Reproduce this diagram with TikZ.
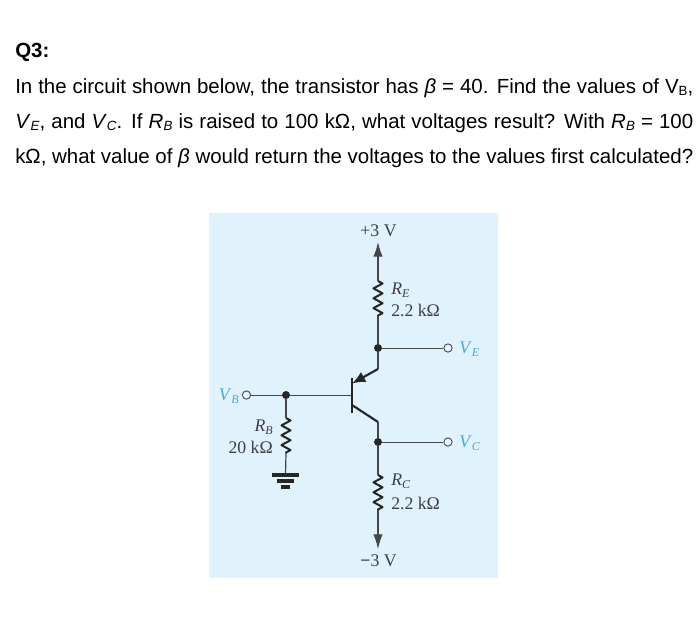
\documentclass[tikz,border=0pt]{standalone}
\usepackage{fontspec}
\setmainfont{Liberation Sans}
\newfontfamily\circuitfont{Liberation Serif}
\usetikzlibrary{arrows.meta, decorations.pathmorphing}
\definecolor{panelblue}{RGB}{224,242,252}
\definecolor{wiregray}{RGB}{70,70,72}
\definecolor{labelgray}{RGB}{62,62,66}
\definecolor{labelblue}{RGB}{70,170,220}
\newcommand{\lowtxt}[1]{\raisebox{-0.25ex}{\fontsize{10}{12}\selectfont #1}}
\newcommand{\lowcir}[1]{\raisebox{-0.4ex}{\fontsize{9}{10}\selectfont #1}}
\newcommand{\fullline}[1]{\makebox[508.5pt][s]{#1}}
\tikzset{
  questionline/.style={anchor=base west, inner sep=0pt, font=\fontsize{15.35}{18}\selectfont},
  cirlabel/.style={inner sep=0pt, text=labelgray, font=\circuitfont\fontsize{13.3}{15}\selectfont},
  outlabel/.style={cirlabel, text=labelblue},
  wire/.style={draw=wiregray, line width=0.9pt},
  thinwire/.style={draw=wiregray, line width=0.65pt},
  resistor/.style={draw=black!85, line width=1.5pt, line join=round, decorate,
    decoration={zigzag, amplitude=3.4, segment length=7.4}},
  transbar/.style={draw=black!85, line width=1.9pt},
  transleg/.style={draw=black!85, line width=1.6pt},
  dotnode/.style={circle, fill=black!85, inner sep=0pt, minimum size=6pt},
  terminal/.style={circle, draw=wiregray, fill=panelblue, line width=0.65pt, inner sep=0pt, minimum size=6.2pt},
  gndbar/.style={fill=black!85, inner sep=0pt, minimum height=2.7pt},
  railtip/.style={-{Latex[length=11pt, width=7pt]}},
}
\begin{document}
\begin{tikzpicture}[x=0.75pt,y=0.75pt,yscale=-1,xscale=1]
    \useasboundingbox (0,0) rectangle (700,629);
    
    % Question Text
    \node[questionline, font=\fontsize{15.35}{18}\selectfont\bfseries] (qhead) at (15,57) {Q3:};
    \node[questionline] (qone) at (15,93) {\fullline{In the circuit shown below, the transistor has \textit{β} = 40. Find the values of V\lowtxt{B},}};
    \node[questionline] (qtwo) at (15,128) {\fullline{\textit{V}\lowtxt{\textit{E}}, and \textit{V}\lowtxt{\textit{C}}. If \textit{R}\lowtxt{\textit{B}} is raised to 100 kΩ, what voltages result? With \textit{R}\lowtxt{\textit{B}} = 100}};
    \node[questionline] (qthree) at (15,163) {\fullline{kΩ, what value of \textit{β} would return the voltages to the values first calculated?}};
    
    % Panel
    \fill[panelblue] (209,213) rectangle (498,578);
    
    % Rails and junctions
    \coordinate (railtop) at (378,242);
    \coordinate (retop) at (378,281);
    \coordinate (rebot) at (378,316);
    \node[dotnode] (nodee) at (378,348) {};
    \coordinate (emit) at (378,369);
    \coordinate (emitbar) at (352,383.5);
    \node[terminal] (termve) at (448,348) {};
    \coordinate (collbar) at (352,405);
    \coordinate (coll) at (378,422);
    \node[dotnode] (nodec) at (378,442) {};
    \node[terminal] (termvc) at (448,442) {};
    \coordinate (rctop) at (378,475);
    \coordinate (rcbot) at (378,510);
    \coordinate (railbot) at (378,549);
    \coordinate (basebar) at (352,395);
    \node[dotnode] (nodeb) at (286,395) {};
    \node[terminal] (termvb) at (246.5,395) {};
    \coordinate (rbtop) at (286,418);
    \coordinate (rbbot) at (286,453);
    \coordinate (bartop) at (352,378);
    \coordinate (barbot) at (352,413);
    
    % Ground
    \node[gndbar, minimum width=20.5pt] (gnda) at (285.5,475) {};
    \node[gndbar, minimum width=13pt] (gndb) at (285.5,481) {};
    \node[gndbar, minimum width=6.5pt] (gndc) at (285.5,487) {};
    
    %Straight Lines
    \draw[wire, railtip, fill=black!85] (retop) -- (railtop);
    \draw[wire] (rebot) -- (nodee);
    \draw[wire] (nodee) -- (emit);
    \draw[thinwire] (nodee) -- (termve);
    \draw[wire] (coll) -- (nodec);
    \draw[thinwire] (nodec) -- (termvc);
    \draw[wire] (nodec) -- (rctop);
    \draw[wire, railtip, fill=black!85] (rcbot) -- (railbot);
    \draw[thinwire] (termvb) -- (nodeb);
    \draw[thinwire] (nodeb) -- (basebar);
    \draw[wire] (nodeb) -- (rbtop);
    \draw[wire] (rbbot) -- (gnda);
    
    %Resistors
    \draw[resistor] (retop) -- (rebot);
    \draw[resistor] (rctop) -- (rcbot);
    \draw[resistor] (rbtop) -- (rbbot);
    
    %Transistor
    \draw[transbar] (bartop) -- (barbot);
    \draw[transleg, -{Latex[length=10pt, width=8.5pt]}] (emit) -- (emitbar);
    \draw[transleg] (collbar) -- (coll);
    
    % Text Node
    \node[cirlabel] (plusthree) at (378.5,231) {+3 V};
    \node[cirlabel] (minusthree) at (378.5,561) {\textbf{−}3 V};
    \node[cirlabel, anchor=west] (rename) at (391,290) {\textit{R}\lowcir{\textit{E}}};
    \node[cirlabel, anchor=west] (reval) at (391,310) {2.2 kΩ};
    \node[cirlabel, anchor=west] (rcname) at (391,481) {\textit{R}\lowcir{\textit{C}}};
    \node[cirlabel, anchor=west] (rcval) at (391,503) {2.2 kΩ};
    \node[cirlabel, anchor=east] (rbname) at (273,427) {\textit{R}\lowcir{\textit{B}}};
    \node[cirlabel, anchor=east] (rbval) at (273,447) {20 kΩ};
    \node[outlabel, anchor=west] (labve) at (459,349) {\textit{V}\lowcir{\textit{E}}};
    \node[outlabel, anchor=west] (labvc) at (459,443) {\textit{V}\lowcir{\textit{C}}};
    \node[outlabel, anchor=east] (labvb) at (239,396) {\textit{V}\lowcir{\textit{B}}};
\end{tikzpicture}
\end{document}
